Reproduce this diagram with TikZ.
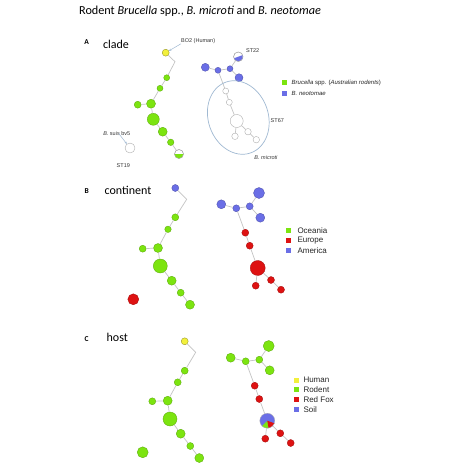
\documentclass[tikz,border=0pt]{standalone}
\usepackage{fontspec}
\setmainfont{Carlito}
\newfontfamily\arialf{Liberation Sans}
\usetikzlibrary{shapes.geometric,arrows.meta}
\definecolor{gcol}{RGB}{124,228,16}
\definecolor{bcol}{RGB}{106,110,230}
\definecolor{rcol}{RGB}{222,18,18}
\definecolor{ycol}{RGB}{242,240,60}
\definecolor{edgec}{RGB}{196,196,196}
\definecolor{ellc}{RGB}{160,185,210}
\tikzset{
  nd/.style={circle, inner sep=0pt, line width=0.35pt, minimum size=#1},
  gn/.style={nd=#1, fill=gcol, draw=gcol!75!black},
  bn/.style={nd=#1, fill=bcol, draw=bcol!75!black},
  rn/.style={nd=#1, fill=rcol, draw=rcol!75!black},
  yn/.style={nd=#1, fill=ycol, draw=ycol!60!black},
  wn/.style={nd=#1, fill=white, draw=gray!70},
  edge/.style={draw=edgec, line width=0.7pt},
  lbl/.style={font=\arialf\fontsize{5.5}{6}\selectfont, inner sep=0pt, text=black!80},
  leg/.style={font=\arialf\fontsize{8}{9}\selectfont, inner sep=0pt, anchor=west, text=black!85},
  legs/.style={font=\arialf\fontsize{6}{7}\selectfont, inner sep=0pt, anchor=west, text=black!85},
  sq/.style={minimum size=5pt, inner sep=0pt, draw=none},
  panel/.style={font=\fontsize{12}{14}\selectfont, inner sep=0pt},
  plet/.style={font=\bfseries\fontsize{7.5}{8}\selectfont, inner sep=0pt},
  arr/.style={draw=ellc, line width=0.5pt, -{Stealth[length=2.5pt,width=2pt]}}
}
\begin{document}
\begin{tikzpicture}[x=1pt,y=-1pt]
\useasboundingbox[fill=white] (0,0) rectangle (474,474);
% title
\node[font=\fontsize{12.2}{14}\selectfont, inner sep=0pt] (title) at (200,11.7) {Rodent \textit{Brucella} spp., \textit{B. microti} and \textit{B. neotomae}};

% ================= Panel A =================
\node[plet] (la) at (86.7,42.3) {A};
\node[panel] (pa) at (116,44) {clade};

\node[yn=7] (a1) at (165.7,52.7) {};
\coordinate (ac) at (175,61.7);
\node[gn=6] (a2) at (166.7,77.7) {};
\node[gn=6] (a3) at (160,88.3) {};
\node[gn=9] (a4) at (151,103.7) {};
\node[gn=7] (a5) at (137.7,104.7) {};
\node[gn=12] (a6) at (153.3,119.3) {};
\node[gn=9] (a7) at (162.7,131.7) {};
\node[gn=6.5] (a8) at (170.7,142.3) {};
\node[wn=9] (a9) at (179,154) {};
\fill[gcol] (a9.west) arc[start angle=180, end angle=360, radius=4.5pt] -- cycle;
\node[nd=9, draw=gray!70] at (a9) {};
\node[wn=10] (a10) at (130,148) {};

\draw[edge] (a1) -- (ac) -- (a2);
\draw[edge] (a2) -- (a3) -- (a4) -- (a5);
\draw[edge] (a4) -- (a6) -- (a7) -- (a8) -- (a9);

\node[lbl, anchor=west] (bo2) at (181,41) {BO2 (Human)};
\draw[arr] (bo2.south west) -- (a1);
\node[lbl] (suis) at (116.7,133.3) {\textit{B.} suis bv5};
\draw[arr] (suis.south) ++(2pt,2pt) coordinate (suist) -- (a10);
\node[lbl] (st19) at (123.3,165.7) {ST19};

% blue cluster
\node[bn=8] (ab1) at (205.3,67.3) {};
\node[bn=6] (ab2) at (218,70.3) {};
\node[bn=6] (ab3) at (230,68.7) {};
\node[wn=9.5] (ab4) at (238.3,56.7) {};
\fill[bcol] (ab4.center) -- ++(200:4.75pt) arc[start angle=200, end angle=380, radius=4.75pt] -- cycle;
\node[nd=9.5, draw=gray!70] at (ab4) {};
\node[bn=8] (ab5) at (239,77.7) {};
\node[wn=6] (aw1) at (225.7,91) {};
\node[wn=6] (aw2) at (229.3,102.3) {};
\node[wn=13] (aw3) at (236.7,121) {};
\node[wn=6.5] (aw4) at (235,136.3) {};
\node[wn=6.5] (aw5) at (248,131.7) {};
\node[wn=6.5] (aw6) at (256.3,139.7) {};
\draw[edge] (ab1) -- (ab2) -- (ab3) -- (ab4);
\draw[edge] (ab3) -- (ab5);
\draw[edge] (ab2) -- (aw1) -- (aw2) -- (aw3) -- (aw4);
\draw[edge] (aw3) -- (aw5) -- (aw6);
\node[ellipse, draw=ellc, line width=0.7pt, minimum width=60pt, minimum height=75pt, rotate=19] (ell) at (238.3,117.5) {};

\node[lbl] (st22) at (252.7,51) {ST22};
\node[lbl] (st67) at (277.3,121) {ST67};
\node[lbl] (mic) at (266,157.3) {\textit{B. microti}};

\node[sq, fill=gcol] (lga1) at (284.3,82.7) {};
\node[legs] (lta1) at (291.5,82.7) {\textit{Brucella} spp. (\textit{Australian rodents})};
\node[sq, fill=bcol] (lga2) at (284.3,93.3) {};
\node[legs] (lta2) at (291.5,93.3) {\textit{B. neotomae}};

% ================= Panel B =================
\node[plet] (lb) at (86.7,190.7) {B};
\node[panel] (pb) at (128,190.7) {continent};

\node[bn=7] (b1) at (175.3,188) {};
\coordinate (bc) at (186.7,199.3);
\node[gn=7] (b2) at (175.3,217.3) {};
\node[gn=6.5] (b3) at (168,229.3) {};
\node[gn=9] (b4) at (158,248) {};
\node[gn=7] (b5) at (142.7,248.7) {};
\node[gn=14] (b6) at (160.3,266) {};
\node[gn=9] (b7) at (171.7,280.7) {};
\node[gn=7] (b8) at (180.7,292.7) {};
\node[gn=9] (b9) at (190,304.7) {};
\node[rn=11] (b10) at (133.3,299.3) {};
\draw[edge] (b1) -- (bc) -- (b2);
\draw[edge] (b2) -- (b3) -- (b4) -- (b5);
\draw[edge] (b4) -- (b6) -- (b7) -- (b8) -- (b9);

\node[bn=9] (bb1) at (221.3,204.3) {};
\node[bn=7] (bb2) at (236.3,208.3) {};
\node[bn=7] (bb3) at (249.7,206.3) {};
\node[bn=11] (bb4) at (259,193) {};
\node[bn=9] (bb5) at (260.3,217.7) {};
\node[rn=7] (br1) at (245.3,232.7) {};
\node[rn=7] (br2) at (249.7,245.7) {};
\node[rn=15] (br3) at (257.7,268) {};
\node[rn=7] (br4) at (255.7,285.7) {};
\node[rn=7] (br5) at (271,280) {};
\node[rn=7] (br6) at (281,289.7) {};
\draw[edge] (bb1) -- (bb2) -- (bb3) -- (bb4);
\draw[edge] (bb3) -- (bb5);
\draw[edge] (bb2) -- (br1) -- (br2) -- (br3) -- (br4);
\draw[edge] (br3) -- (br5) -- (br6);

\node[sq, fill=gcol] (lgb1) at (288.3,230.7) {};
\node[leg] (ltb1) at (297.3,230.7) {Oceania};
\node[sq, fill=rcol] (lgb2) at (288.3,240.7) {};
\node[leg] (ltb2) at (297.3,240.7) {Europe};
\node[sq, fill=bcol] (lgb3) at (288.3,250.7) {};
\node[leg] (ltb3) at (297.3,250.7) {America};

% ================= Panel C =================
\node[plet] (lc) at (86.7,339.3) {C};
\node[panel] (pc) at (117.3,337.3) {host};

\node[yn=7] (c1) at (184.7,341.3) {};
\coordinate (cc) at (195.7,352.3);
\node[gn=7] (c2) at (184.7,370.7) {};
\node[gn=7] (c3) at (177.7,382.3) {};
\node[gn=9] (c4) at (167.7,400.7) {};
\node[gn=7] (c5) at (152.3,401.3) {};
\node[gn=14] (c6) at (170,419) {};
\node[gn=9] (c7) at (180.7,433.7) {};
\node[gn=7] (c8) at (190.3,446) {};
\node[gn=9] (c9) at (199.3,458) {};
\node[gn=11] (c10) at (142.7,452.3) {};
\draw[edge] (c1) -- (cc) -- (c2);
\draw[edge] (c2) -- (c3) -- (c4) -- (c5);
\draw[edge] (c4) -- (c6) -- (c7) -- (c8) -- (c9);

\node[gn=9] (cg1) at (230.7,357.7) {};
\node[gn=7] (cg2) at (245.7,361.3) {};
\node[gn=7] (cg3) at (259.3,359.7) {};
\node[gn=11] (cg4) at (268.7,346) {};
\node[gn=9] (cg5) at (269.7,370.3) {};
\node[rn=7] (cr1) at (254.7,385.7) {};
\node[rn=7] (cr2) at (259.3,399) {};
\node[nd=15, fill=bcol] (cp) at (267.3,420.7) {};
\fill[gcol] (cp.center) -- ++(225:7.5pt) arc[start angle=225, end angle=280, radius=7.5pt] -- cycle;
\fill[rcol] (cp.center) -- ++(280:7.5pt) arc[start angle=280, end angle=340, radius=7.5pt] -- cycle;
\node[nd=15, draw=gray!60] at (cp) {};
\node[rn=7] (cr3) at (265.3,438.7) {};
\node[rn=7] (cr4) at (280.3,433.3) {};
\node[rn=7] (cr5) at (290.7,443) {};
\draw[edge] (cg1) -- (cg2) -- (cg3) -- (cg4);
\draw[edge] (cg3) -- (cg5);
\draw[edge] (cg2) -- (cr1) -- (cr2) -- (cp) -- (cr3);
\draw[edge] (cp) -- (cr4) -- (cr5);

\node[sq, fill=ycol] (lgc1) at (296,380) {};
\node[leg] (ltc1) at (303.3,380) {Human};
\node[sq, fill=gcol] (lgc2) at (296,389.3) {};
\node[leg] (ltc2) at (303.3,389.3) {Rodent};
\node[sq, fill=rcol] (lgc3) at (296,399.3) {};
\node[leg] (ltc3) at (303.3,399.3) {Red Fox};
\node[sq, fill=bcol] (lgc4) at (296,409.3) {};
\node[leg] (ltc4) at (303.3,409.3) {Soil};
\end{tikzpicture}
\end{document}
